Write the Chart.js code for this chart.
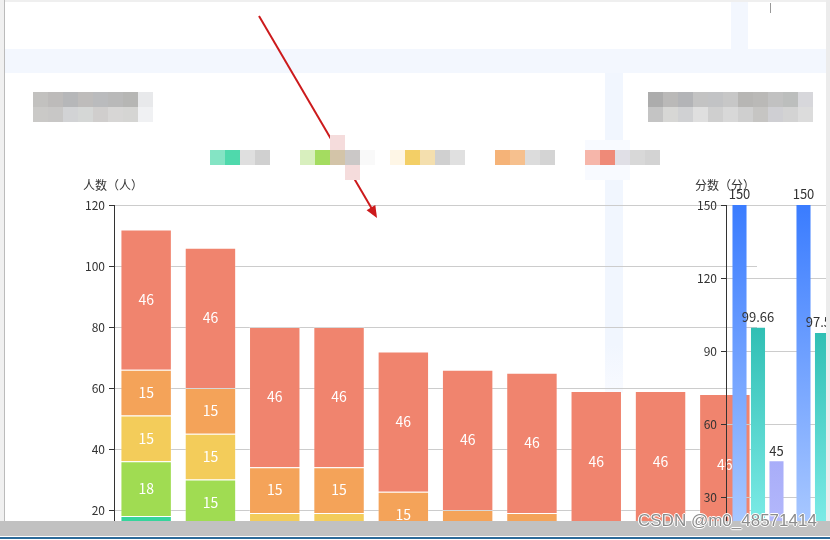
<!DOCTYPE html>
<html lang="zh-CN">
<head>
  <meta charset="UTF-8" />
  <title>人数与分数统计</title>
  <script src="https://cdn.jsdelivr.net/npm/chart.js@4"></script>
  <style>
    html, body { margin: 0; padding: 0; }
    body {
      width: 830px; height: 540px; overflow: hidden; position: relative; background: #fff;
      font-family: "Microsoft YaHei", "Noto Sans CJK SC", sans-serif;
    }
    .abs { position: absolute; }
    .px { position: absolute; width: 15px; height: 15px; }
    canvas { position: absolute; top: 0; }
    .axis-name { position: absolute; top: 176px; font-size: 12px; color: #333; width: 80px; text-align: center; white-space: nowrap; }
    #watermark {
      position: absolute; left: 638px; top: 511px; z-index: 8;
      font: 17px "Liberation Sans", Arial, sans-serif; color: #8c8c8c; white-space: nowrap;
      text-shadow: 1px 0 0 #fff, -1px 0 0 #fff, 0 1px 0 #fff, 0 -1px 0 #fff;
    }
  </style>
</head>
<body>
  <!-- page frame behind the charts -->
  <div class="abs" style="left:0;top:0;width:830px;height:2px;background:#efefef"></div>
  <div class="abs" style="left:0;top:0;width:4px;height:540px;background:#f0f0f0"></div>
  <div class="abs" style="left:4px;top:0;width:1px;height:540px;background:#bbb"></div>
  <div class="abs" style="left:5px;top:49px;width:821px;height:24px;background:#f3f7fe"></div>
  <div class="abs" style="left:731px;top:2px;width:17px;height:47px;background:#f3f7fe"></div>
  <div class="abs" style="left:770px;top:3px;width:1px;height:10px;background:#999"></div>
  <div class="abs" style="left:605px;top:73px;width:18px;height:320px;background:linear-gradient(#f1f6fe, #f1f6fe 85%, #f8faff)"></div>
  <div class="abs" style="left:585px;top:140px;width:45px;height:40px;background:#f8faff"></div>
  <div id="mosaics"></div>

  <canvas id="countChart" width="780" height="600" style="left:0;z-index:1"></canvas>
  <canvas id="scoreChart" width="230" height="600" style="left:640px;z-index:2"></canvas>

  <div class="axis-name" style="left:73px;z-index:3">人数（人）</div>
  <div class="axis-name" style="left:685px;z-index:3">分数（分）</div>

  <svg class="abs" width="830" height="540" style="left:0;top:0;z-index:4">
    <line x1="259" y1="16" x2="372" y2="209" stroke="#cc1a1c" stroke-width="2" />
    <polygon points="377,218 366.6,210.2 375.3,205.1" fill="#cc1a1c" />
  </svg>
  <div id="mosaicsTop" style="position:absolute;left:0;top:0;z-index:5"></div>

  <div class="abs" style="left:0;top:521px;width:830px;height:15px;background:#c1c1c1;z-index:6"></div>
  <div class="abs" style="left:0;top:536px;width:830px;height:4px;background:#fff;z-index:6"></div>
  <div class="abs" style="left:0;top:537px;width:830px;height:2px;background:#2b6a99;z-index:6"></div>
  <div class="abs" style="left:826px;top:0;width:4px;height:521px;background:#ececec;z-index:7"></div>
  <div id="watermark">CSDN @m0_48571414</div>

  <script>
    // left chart: people per class, stacked by band (bottom -> top)
    const classes = ['1', '2', '3', '4', '5', '6', '7', '8', '9', '10'];
    const band1 = [18, 15, 2, 2, 2, 1, 1, 0, 0, 0];
    const band2 = [18, 15, 2, 2, 2, 2, 1, 0, 0, 0];
    const band3 = [15, 15, 15, 15, 7, 2, 2, 0, 0, 0];
    const band4 = [15, 15, 15, 15, 15, 15, 15, 13, 13, 12];
    const band5 = [46, 46, 46, 46, 46, 46, 46, 46, 46, 46];
    const countTicks = [0, 20, 40, 60, 80, 100, 120];

    // right chart: scores per subject
    const subjects = ['语文', '数学'];
    const fullMarks = [150, 150];
    const avgScores = [99.66, 97.52];
    const minScores = [45, 45];
    const scoreTicks = [0, 30, 60, 90, 120, 150];

    Chart.defaults.font.family = '"Microsoft YaHei", "Noto Sans CJK SC", sans-serif';
    Chart.defaults.font.size = 12;

    // pixelated (redacted) blocks from the screenshot
    function mosaic(parent, x, y, rows) {
      const host = document.getElementById(parent);
      rows.forEach((row, r) => row.forEach((col, i) => {
        if (!col) return;
        const d = document.createElement('div');
        d.className = 'px';
        d.style.cssText = `left:${x + i * 15}px;top:${y + r * 15}px;background:${col}`;
        host.appendChild(d);
      }));
    }
    mosaic('mosaics', 33, 92, [
      ['#c2c1bf', '#bdbbba', '#b6b7b9', '#bebcbb', '#babbbd', '#b9b9b9', '#b6b6b4', '#e8e9eb'],
      ['#cac9c7', '#c8c7c6', '#d2d3d5', '#d5d7d6', '#d0cecd', '#d7d6d5', '#d5d5d3', '#f0f1f3']
    ]);
    mosaic('mosaics', 648, 92, [
      ['#acacac', '#bab9b8', '#b3b4b7', '#c3c3c3', '#c2c3c5', '#c7c7c7', '#b7b6b4', '#bab9b7', '#c1c1c1', '#bcbebd', '#d7d7db'],
      ['#c4c4c4', '#d7d7d5', '#d0d1d3', '#dfdfdf', '#cfcfcf', '#d8d8d8', '#cfcfcf', '#c6c5c3', '#cfcfd3', '#d3d3d3', '#dcdcdc']
    ]);
    mosaic('mosaicsTop', 210, 150, [['#84e4c4', '#4fd9ac', '#dfdfdf', '#d0d0d0']]);
    mosaic('mosaicsTop', 300, 150, [['#d8efbe', '#a4dc60', '#d3c4a8', '#cbc8c7', '#f9f9f9']]);
    mosaic('mosaicsTop', 390, 150, [['#fef6e6', '#f3cf66', '#f4dfae', '#d0d0d0', '#e0e0e0']]);
    mosaic('mosaicsTop', 495, 150, [['#f5b378', '#f6c08e', '#dcdcdc', '#d4d4d4']]);
    mosaic('mosaicsTop', 585, 150, [['#f6b6aa', '#ef8a78', '#e0dfe6', '#d8d8d8', '#d3d3d3']]);
    mosaic('mosaicsTop', 330, 135, [['#f5dcdc']]);
    mosaic('mosaicsTop', 345, 165, [['#f5dcdc']]);

    const segLabels = {
      id: 'segLabels',
      afterDatasetsDraw(chart) {
        const c = chart.ctx;
        c.save();
        c.font = '14px "Microsoft YaHei", "Noto Sans CJK SC", sans-serif';
        c.fillStyle = '#fff';
        c.textAlign = 'center';
        c.textBaseline = 'middle';
        chart.data.datasets.forEach((ds, i) => {
          chart.getDatasetMeta(i).data.forEach((bar, j) => {
            const v = ds.data[j];
            const p = bar.getProps(['x', 'y', 'base'], true);
            if (!v || Math.abs(p.base - p.y) < 12) return;
            c.fillText(v, p.x, (p.y + p.base) / 2);
          });
        });
        c.restore();
      }
    };

    const topLabels = {
      id: 'topLabels',
      afterDatasetsDraw(chart) {
        const c = chart.ctx;
        c.save();
        c.font = '13px "Microsoft YaHei", "Noto Sans CJK SC", sans-serif';
        c.fillStyle = '#333';
        c.textAlign = 'center';
        c.textBaseline = 'bottom';
        chart.data.datasets.forEach((ds, i) => {
          chart.getDatasetMeta(i).data.forEach((bar, j) => {
            c.fillText(ds.data[j], bar.x, bar.y - 4);
          });
        });
        c.restore();
      }
    };

    const bandColors = ['#36d49c', '#a0dc52', '#f3cc5a', '#f4a359', '#f0846e'];
    const bands = [band1, band2, band3, band4, band5];

    new Chart(document.getElementById('countChart'), {
      type: 'bar',
      data: {
        labels: classes,
        datasets: bands.map((d, i) => ({
          label: 'band' + (i + 1),
          data: d,
          backgroundColor: bandColors[i],
          borderColor: 'rgba(255,255,255,0.22)',
          borderWidth: 1,
          categoryPercentage: 1,
          barPercentage: 0.8
        }))
      },
      options: {
        responsive: false,
        animation: false,
        layout: { padding: { left: 54, top: 205, right: 23, bottom: 29 } },
        plugins: { legend: { display: false }, tooltip: { enabled: false } },
        scales: {
          x: {
            stacked: true,
            grid: { display: false, drawTicks: false },
            ticks: { display: false },
            border: { display: false },
            afterFit(s) { s.height = 0; }
          },
          y: {
            stacked: true,
            min: countTicks[0],
            max: countTicks[countTicks.length - 1],
            afterBuildTicks(s) { s.ticks = countTicks.map(v => ({ value: v })); },
            ticks: { color: '#333', padding: 4 },
            grid: { color: '#ccc', tickColor: '#333', tickLength: 5 },
            border: { color: '#333' },
            afterFit(s) { s.width = 60; }
          }
        }
      },
      plugins: [segLabels]
    });

    function vGradient(top, bottom) {
      return (ctx) => {
        const chart = ctx.chart;
        const area = chart.chartArea;
        if (!area || ctx.type !== 'data') return top;
        const y = chart.scales.y.getPixelForValue(ctx.raw);
        const g = chart.ctx.createLinearGradient(0, y, 0, area.bottom);
        g.addColorStop(0, top);
        g.addColorStop(1, bottom);
        return g;
      };
    }

    new Chart(document.getElementById('scoreChart'), {
      type: 'bar',
      data: {
        labels: subjects,
        datasets: [
          { label: '满分', data: fullMarks, backgroundColor: vGradient('#3a7cff', '#b9d3ff') },
          { label: '平均分', data: avgScores, backgroundColor: vGradient('#30bfb4', '#8ff6f3') },
          { label: '最低分', data: minScores, backgroundColor: vGradient('#a8adf9', '#bcc0fd') }
        ].map(d => Object.assign(d, { categoryPercentage: 0.867, barPercentage: 0.76 }))
      },
      options: {
        responsive: false,
        animation: false,
        layout: { padding: { left: 0, top: 205, right: 16, bottom: 29 } },
        plugins: { legend: { display: false }, tooltip: { enabled: false } },
        scales: {
          x: {
            grid: { display: false, drawTicks: false },
            ticks: { display: false },
            border: { display: false },
            afterFit(s) { s.height = 0; }
          },
          y: {
            min: scoreTicks[0],
            max: scoreTicks[scoreTicks.length - 1],
            afterBuildTicks(s) { s.ticks = scoreTicks.map(v => ({ value: v })); },
            ticks: { color: '#333', padding: 4 },
            grid: { color: '#ccc', tickColor: '#333', tickLength: 5 },
            border: { color: '#333' },
            afterFit(s) { s.width = 86; }
          }
        }
      },
      plugins: [topLabels]
    });
  </script>
</body>
</html>
